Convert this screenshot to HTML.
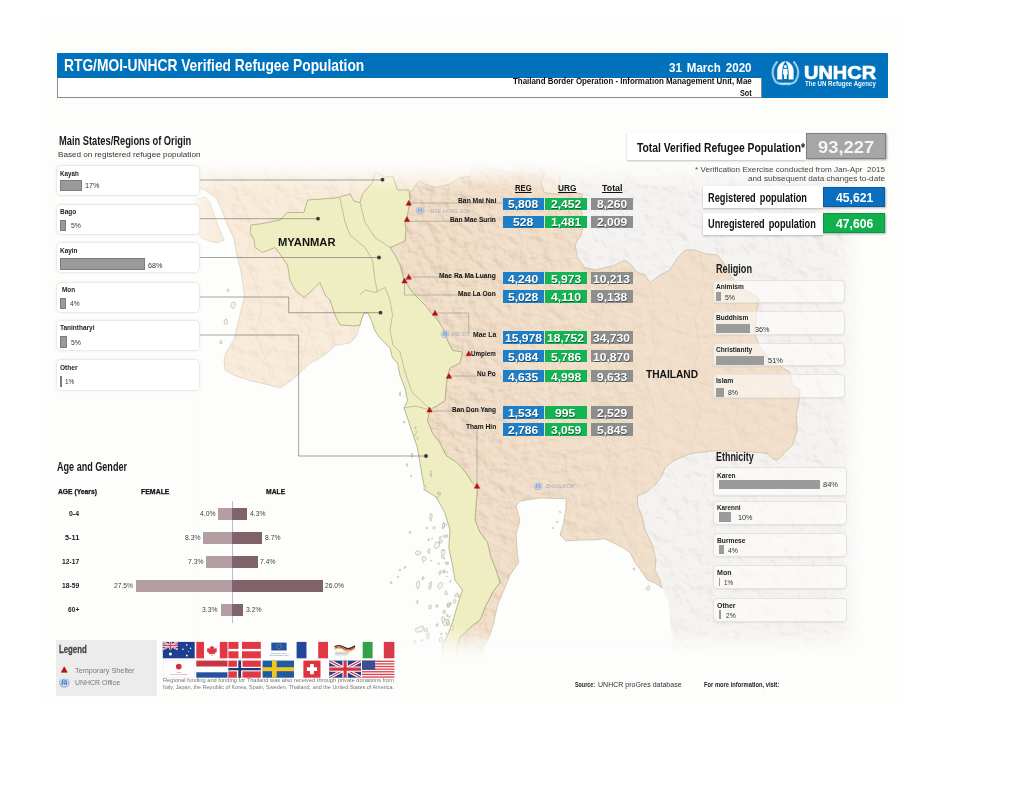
<!DOCTYPE html>
<html lang="en"><head><meta charset="utf-8"><title>RTG/MOI-UNHCR Verified Refugee Population</title>
<style>
html,body{margin:0;padding:0;background:#fff;}
body{width:1024px;height:791px;position:relative;overflow:hidden;font-family:'Liberation Sans', sans-serif;}
#page{position:absolute;left:40px;top:18px;width:864px;height:685px;background:#fdfdfc;}
svg{position:absolute;left:0;top:0;}
</style></head><body>
<div id="page"></div>
<svg width="1024" height="791" viewBox="0 0 1024 791">
<defs>
<filter id="fade" x="-10%" y="-10%" width="120%" height="120%"><feGaussianBlur stdDeviation="8.5 8.5"/></filter>
<mask id="mk" maskUnits="userSpaceOnUse" x="0" y="0" width="1024" height="791"><rect x="199" y="177" width="649" height="464" fill="#fff" filter="url(#fade)"/></mask>
<filter id="relief" x="0" y="0" width="100%" height="100%" color-interpolation-filters="sRGB">
 <feTurbulence type="fractalNoise" baseFrequency="0.075 0.085" numOctaves="4" seed="11" result="n"/>
 <feDiffuseLighting in="n" surfaceScale="1.9" diffuseConstant="1.34" lighting-color="#ffffff" result="l"><feDistantLight azimuth="315" elevation="48"/></feDiffuseLighting>
 <feColorMatrix in="l" type="matrix" values="1 0 0 0 0  0 1 0 0 0  0 0 1 0 0  0 0 0 1 0"/>
</filter>
<filter id="reliefW" x="0" y="0" width="100%" height="100%" color-interpolation-filters="sRGB">
 <feTurbulence type="fractalNoise" baseFrequency="0.075 0.085" numOctaves="4" seed="11" result="n"/>
 <feDiffuseLighting in="n" surfaceScale="1.9" diffuseConstant="1.34" lighting-color="#ffeeda" result="l"><feDistantLight azimuth="315" elevation="48"/></feDiffuseLighting>
 <feColorMatrix in="l" type="matrix" values="1 0 0 0 0  0 1 0 0 0  0 0 1 0 0  0 0 0 1 0"/>
</filter>
<linearGradient id="rg" x1="430" x2="660" y1="0" y2="0" gradientUnits="userSpaceOnUse"><stop offset="0" stop-color="#fff"/><stop offset="1" stop-color="#555"/></linearGradient>
<mask id="rm" maskUnits="userSpaceOnUse" x="0" y="0" width="1024" height="791"><rect width="1024" height="791" fill="url(#rg)"/></mask>
<clipPath id="cThai"><polygon points="410,192.5 419,181 425,184 435,187.5 450,184 460,177.5 470,176 472.5,165 482.5,167.5 500,170 510,172.5 520,165 540,167.5 545,172.5 541,182.5 544,192.5 555,194 575,192.5 582.5,194 580,205 584,222.5 581,235 575,245 577.5,257.5 585,267.5 595,270 615,265 625,260 630,263.75 637.5,272.5 645,275 650,282.5 660,275 670,270 677.5,257.5 685,250 695,250 705,253.75 717.5,255 725,265 730,275 740,287.5 752.5,293.75 758.75,300 756,315 755,335 760,347.5 770,360 782.5,367.5 790,372.5 792.5,385 800,390 798.75,402.5 796,415 797.5,430 792.5,445 785,452.5 777.5,460 772.5,458.75 767.5,453.75 760,452.5 735,451 710,451 690,453.75 675,460 665,467.5 662.5,475 655,485 646,492.5 637.5,496 637.5,505 642.5,517.5 645,530 652.5,545 656,560 655,570 660,580 662,588 655,583 647.5,580 642.5,572.5 635,562.5 630,552.5 622.5,547.5 612.5,542.5 605,538.75 592.5,540 580,540 566,541 560,535 563.75,522.5 566,507.5 566,498.75 540,498 520,501 516,506 520,520 516,535 517.5,555 518.75,562.5 510,575 505,587.5 497.5,605 493.75,622.5 490,635 482.5,650 480,670 455,670 456,650 460,637.5 470,627.5 480,620 485,607.5 492.5,592.5 500,582.5 496,570 491,557.5 487.5,542.5 480,532.5 475,520 476,505 477.5,487.5 472.5,483 466,473 457.5,463 446,455.5 440,443 432.5,433 427.5,420.5 429.5,409.75 437.5,405.5 445,400.5 446,388 447.5,375.5 450,368 460,363 462.5,352 452.5,350.5 450,345.5 446,337.5 444,330 437.5,320 425,305 412.5,292.5 404,280 400,265 395,255 390,247.5 394,246 405,241 406,230 405,222.5 407.5,215 410,200"/></clipPath>
<clipPath id="cEast"><polygon points="538,140 900,140 900,690 640,690 640,560 600,420 570,300 560,200"/></clipPath>
<clipPath id="cMya"><polygon points="190,140 560,140 560,200 400,200 400,312 368,313 364,313 362,318 360,325 357,335 355,338 350,343 335,345.5 330,350.5 320,358 310,363 297.5,375.5 287.5,383 280,388 265,384 250,380.5 235,375.5 225,370 224,360 226,353 230,346 234,340 237,327 240.6,312 244.4,297 243,284 240.6,269 237,256 234,238.5 228,226 223,213 218,201 214,196 205,190 190,186"/></clipPath>
</defs>
<g mask="url(#mk)">
<rect x="180" y="130" width="720" height="560" fill="#fdfdfb"/>
<polygon points="538,140 900,140 900,690 640,690 640,560 600,420 570,300 560,200" fill="#f5f3f1"/>
<g clip-path="url(#cEast)" style="mix-blend-mode:multiply" opacity=".13"><rect x="530" y="130" width="380" height="570" filter="url(#relief)"/></g>
<polygon points="516,506 520,501 540,498 566,498.75 566,507.5 563.75,522.5 560,535 566,541 580,540 592.5,540 605,538.75 612.5,542.5 622.5,547.5 630,552.5 635,562.5 642.5,572.5 647.5,580 655,583 662,588 668,600 672,640 676,700 470,700 480,670 482.5,650 490,635 493.75,622.5 497.5,605 505,587.5 510,575 518.75,562.5 517.5,555 516,535 520,520" fill="#fdfdfb"/>
<polygon points="190,140 560,140 560,200 400,200 400,312 368,313 364,313 362,318 360,325 357,335 355,338 350,343 335,345.5 330,350.5 320,358 310,363 297.5,375.5 287.5,383 280,388 265,384 250,380.5 235,375.5 225,370 224,360 226,353 230,346 234,340 237,327 240.6,312 244.4,297 243,284 240.6,269 237,256 234,238.5 228,226 223,213 218,201 214,196 205,190 190,186" fill="#f9ecdc" stroke="#d6d0c6" stroke-width=".7"/>
<g clip-path="url(#cMya)" style="mix-blend-mode:multiply" opacity=".10"><rect x="180" y="130" width="400" height="270" filter="url(#reliefW)"/></g>
<polyline points="225,165 232,185 240,200 251,225" fill="none" stroke="#e6dccb" stroke-width=".7"/>
<polyline points="262,162 268,180 285,195 307.5,200" fill="none" stroke="#e6dccb" stroke-width=".7"/>
<polyline points="312,160 318,178 336,198" fill="none" stroke="#e6dccb" stroke-width=".7"/>
<polyline points="350,160 352,178 350,194" fill="none" stroke="#e6dccb" stroke-width=".7"/>
<polyline points="251,240 245,262 256,285 262,310 255,330 262,350 270,372" fill="none" stroke="#e6dccb" stroke-width=".7"/>
<polyline points="304,297.5 300,315 310,330 304,350 300,372" fill="none" stroke="#e6dccb" stroke-width=".7"/>
<polyline points="330,300 325,320 335,340 333,347" fill="none" stroke="#e6dccb" stroke-width=".7"/>
<polyline points="410,192.5 400,180 398,165" fill="none" stroke="#e6dccb" stroke-width=".7"/>
<polygon points="410,192.5 419,181 425,184 435,187.5 450,184 460,177.5 470,176 472.5,165 482.5,167.5 500,170 510,172.5 520,165 540,167.5 545,172.5 541,182.5 544,192.5 555,194 575,192.5 582.5,194 580,205 584,222.5 581,235 575,245 577.5,257.5 585,267.5 595,270 615,265 625,260 630,263.75 637.5,272.5 645,275 650,282.5 660,275 670,270 677.5,257.5 685,250 695,250 705,253.75 717.5,255 725,265 730,275 740,287.5 752.5,293.75 758.75,300 756,315 755,335 760,347.5 770,360 782.5,367.5 790,372.5 792.5,385 800,390 798.75,402.5 796,415 797.5,430 792.5,445 785,452.5 777.5,460 772.5,458.75 767.5,453.75 760,452.5 735,451 710,451 690,453.75 675,460 665,467.5 662.5,475 655,485 646,492.5 637.5,496 637.5,505 642.5,517.5 645,530 652.5,545 656,560 655,570 660,580 662,588 655,583 647.5,580 642.5,572.5 635,562.5 630,552.5 622.5,547.5 612.5,542.5 605,538.75 592.5,540 580,540 566,541 560,535 563.75,522.5 566,507.5 566,498.75 540,498 520,501 516,506 520,520 516,535 517.5,555 518.75,562.5 510,575 505,587.5 497.5,605 493.75,622.5 490,635 482.5,650 480,670 455,670 456,650 460,637.5 470,627.5 480,620 485,607.5 492.5,592.5 500,582.5 496,570 491,557.5 487.5,542.5 480,532.5 475,520 476,505 477.5,487.5 472.5,483 466,473 457.5,463 446,455.5 440,443 432.5,433 427.5,420.5 429.5,409.75 437.5,405.5 445,400.5 446,388 447.5,375.5 450,368 460,363 462.5,352 452.5,350.5 450,345.5 446,337.5 444,330 437.5,320 425,305 412.5,292.5 404,280 400,265 395,255 390,247.5 394,246 405,241 406,230 405,222.5 407.5,215 410,200" fill="#f1e0cd" stroke="#cbb9a3" stroke-width=".7"/>
<g clip-path="url(#cThai)" mask="url(#rm)" style="mix-blend-mode:multiply" opacity=".26"><rect x="400" y="150" width="420" height="530" filter="url(#reliefW)"/></g>
<polyline points="440,250 455,262 470,258 485,270 500,262 520,270 545,262 577.5,257.5" fill="none" stroke="#e3d0ba" stroke-width=".6" opacity=".9"/>
<polyline points="470,176 478,200 470,222 480,240 470,258" fill="none" stroke="#e3d0ba" stroke-width=".6" opacity=".9"/>
<polyline points="520,165 525,190 515,215 522,240 520,270" fill="none" stroke="#e3d0ba" stroke-width=".6" opacity=".9"/>
<polyline points="445,332 462,325 480,332 500,322 520,330 545,322 570,332 600,322 630,330 650,322 670,330" fill="none" stroke="#e3d0ba" stroke-width=".6" opacity=".9"/>
<polyline points="485,270 490,300 482,322" fill="none" stroke="#e3d0ba" stroke-width=".6" opacity=".9"/>
<polyline points="545,262 550,290 545,322" fill="none" stroke="#e3d0ba" stroke-width=".6" opacity=".9"/>
<polyline points="600,270 605,300 600,322" fill="none" stroke="#e3d0ba" stroke-width=".6" opacity=".9"/>
<polyline points="650,282.5 655,305 650,322" fill="none" stroke="#e3d0ba" stroke-width=".6" opacity=".9"/>
<polyline points="700,254 705,290 695,320 700,350 690,380 700,410 690,453" fill="none" stroke="#e3d0ba" stroke-width=".6" opacity=".9"/>
<polyline points="650,322 655,350 645,380 655,410 648,440 662,475" fill="none" stroke="#e3d0ba" stroke-width=".6" opacity=".9"/>
<polyline points="462,400 480,392 500,400 520,392 545,400 570,392 600,400 630,392 648,400" fill="none" stroke="#e3d0ba" stroke-width=".6" opacity=".9"/>
<polyline points="500,400 505,430 498,455 512,470 516,506" fill="none" stroke="#e3d0ba" stroke-width=".6" opacity=".9"/>
<polyline points="545,400 550,430 542,450 566,455 566,498" fill="none" stroke="#e3d0ba" stroke-width=".6" opacity=".9"/>
<polyline points="566,455 590,447 610,455 640,447 662,455" fill="none" stroke="#e3d0ba" stroke-width=".6" opacity=".9"/>
<polyline points="600,400 598,430 610,455 605,480 612,510 605,538" fill="none" stroke="#e3d0ba" stroke-width=".6" opacity=".9"/>
<polyline points="477,505 495,500 516,506" fill="none" stroke="#e3d0ba" stroke-width=".6" opacity=".9"/>
<polyline points="487.5,542.5 500,548 517.5,555" fill="none" stroke="#e3d0ba" stroke-width=".6" opacity=".9"/>
<polyline points="493,592 500,598 505,588" fill="none" stroke="#e3d0ba" stroke-width=".6" opacity=".9"/>
<polyline points="730,275 725,300 735,330 725,360 740,390 735,420 745,451" fill="none" stroke="#e3d0ba" stroke-width=".6" opacity=".9"/>
<polyline points="670,330 700,338 730,330 757,335" fill="none" stroke="#e3d0ba" stroke-width=".6" opacity=".9"/>
<polyline points="690,380 720,388 760,380 792,385" fill="none" stroke="#e3d0ba" stroke-width=".6" opacity=".9"/>
<polygon points="307.5,200 336,198 350,194 354,201 360,202.5 362.5,194 372.5,182.5 375,172.5 380,174 385,177.5 392.5,176 397.5,190 409,190 410,200 407.5,215 405,222.5 406,230 405,241 394,246 390,247.5 395,255 400,265 404,280 412.5,292.5 425,305 437.5,320 444,330 446,337.5 450,345.5 452.5,350.5 462.5,352 460,363 450,368 447.5,375.5 446,388 445,400.5 437.5,405.5 429.5,409.75 427.5,420.5 432.5,433 440,443 446,455.5 457.5,463 466,473 472.5,483 477.5,487.5 476,505 475,520 480,532.5 487.5,542.5 491,557.5 496,570 500,582.5 492.5,592.5 485,607.5 480,620 470,627.5 460,637.5 456,650 455,670 442.5,670 442.5,645 447.5,635 452.5,622.5 457.5,605 462.5,590 455,580 452.5,565 448.75,547.5 450,530 445,513 436,497 425,490 422.5,478 420,463 417.5,448 412.5,433 407.5,418 404,408 407.5,400.5 405,388 400,375.5 397.5,363 392.5,358 390,348 380,338 375,331 372,322 368,313 364,313 362,318 360,325 355,326 340,325 335,315 330,300 325,295 320,282.5 312.5,290 304,297.5 295,290 290,280 287.5,265 282.5,257.5 275,247.5 262.5,252.5 255,247.5 254,240 250,232.5 251,225 260,224 280,220 287.5,212.5 304,212.5" fill="#efeec2" stroke="#aaa87c" stroke-width=".8" stroke-linejoin="round"/>
<polyline points="340,198 345,222 350,235 365,247.5 372.5,260 375,280 377.5,292.5" fill="none" stroke="#aeac84" stroke-width=".7"/>
<polyline points="360,202.5 365,222.5 375,237.5 390,247.5" fill="none" stroke="#aeac84" stroke-width=".7"/>
<polyline points="360,295 365,290 375,292.5 385,287.5 390,300 392.5,315 390,330 393,345 400,352 405,372 412,392 430,409" fill="none" stroke="#aeac84" stroke-width=".7"/>
<polyline points="404,408 415,406 429.5,409.75" fill="none" stroke="#aeac84" stroke-width=".7"/>
<polygon points="196,199 205,197 210,203 213,212 217,223 221,233 224,240 218,243 209,241 201,238 196,230" fill="#f9ecdc" stroke="#d6d0c6" stroke-width=".6"/>
<polygon points="426,488.3 425.2,489.5 424.2,490.4 424,489.1 423.9,487.7 424.7,486.3 425.5,486.3 426.3,486.6" fill="#f9f4ea" stroke="#a9a798" stroke-width=".55" stroke-linejoin="round"/>
<polygon points="431.9,517.6 431.3,520.8 430.5,521.1 429.9,520 429.8,517.3 430.6,513.5 431.6,513.7 432.2,514.8" fill="#f9f4ea" stroke="#a9a798" stroke-width=".55" stroke-linejoin="round"/>
<polygon points="411,532.5 410.8,533.5 410,533.7 409.4,533.3 408.8,532.5 409.5,531.9 410,531.1 410.6,531.8" fill="#f9f4ea" stroke="#a9a798" stroke-width=".55" stroke-linejoin="round"/>
<polygon points="427.6,528 427.4,528.5 427,528.9 426.4,528.8 426.4,528 426.4,527.3 427,527 427.5,527.4" fill="#f9f4ea" stroke="#a9a798" stroke-width=".55" stroke-linejoin="round"/>
<polygon points="429.3,540 428.9,540.7 428.5,541 428,540.8 427.7,540 428,539.1 428.5,538.8 429.1,539" fill="#f9f4ea" stroke="#a9a798" stroke-width=".55" stroke-linejoin="round"/>
<polygon points="420.6,554.1 419.1,554.9 417.1,555.2 415.3,553.6 415.7,552 416.7,550.8 418.8,551 420.9,552.3" fill="#f9f4ea" stroke="#a9a798" stroke-width=".55" stroke-linejoin="round"/>
<polygon points="426.3,559.5 424.9,561 423.3,562.5 422.5,560.3 422,558.6 422.8,556.4 424.5,556.7 425.8,557.3" fill="#f9f4ea" stroke="#a9a798" stroke-width=".55" stroke-linejoin="round"/>
<polygon points="430,551 430,552.8 429,553.6 428,552.7 427.4,551 428.2,549.5 429,548.5 430,549.3" fill="#f9f4ea" stroke="#a9a798" stroke-width=".55" stroke-linejoin="round"/>
<polygon points="439.5,545.8 437.9,547.8 435.8,548.9 434.1,547.2 434.7,544.3 436,541.9 437.8,542.5 439.6,543" fill="#f9f4ea" stroke="#a9a798" stroke-width=".55" stroke-linejoin="round"/>
<polygon points="445,552.4 444.2,554.8 442.3,555.3 441.5,553.5 441.2,551.6 442,549.6 443.4,549.9 444.7,550.3" fill="#f9f4ea" stroke="#a9a798" stroke-width=".55" stroke-linejoin="round"/>
<polygon points="405.8,567.5 405.5,568 405,568.2 404.2,568.3 404.2,567.5 404.4,566.9 405,566.6 405.8,566.7" fill="#f9f4ea" stroke="#a9a798" stroke-width=".55" stroke-linejoin="round"/>
<polygon points="400.7,570 400.6,570.6 400,570.9 399.3,570.7 399,570 399.3,569.3 400,569.2 400.6,569.4" fill="#f9f4ea" stroke="#a9a798" stroke-width=".55" stroke-linejoin="round"/>
<polygon points="392.1,582.5 392,583.3 391,583.7 390.3,583 390,582.5 390.2,581.9 391,581.7 391.9,581.8" fill="#f9f4ea" stroke="#a9a798" stroke-width=".55" stroke-linejoin="round"/>
<polygon points="398.8,577 398.5,577.5 398,577.6 397.5,577.5 397.3,577 397.4,576.4 398,576.1 398.6,576.4" fill="#f9f4ea" stroke="#a9a798" stroke-width=".55" stroke-linejoin="round"/>
<polygon points="419.5,585.2 418.9,588 417.6,589.1 417,587 416.2,584.8 417.1,581.8 418.5,580.5 419.5,582" fill="#f9f4ea" stroke="#a9a798" stroke-width=".55" stroke-linejoin="round"/>
<polygon points="424.1,578 423.8,579.3 423,579.5 422.1,579.4 422.1,578 422.4,577 423,576.4 423.7,576.9" fill="#f9f4ea" stroke="#a9a798" stroke-width=".55" stroke-linejoin="round"/>
<polygon points="431.2,586.1 430.4,588.9 429.6,589.8 428.9,588.9 429,585.9 429.5,582.5 430.4,582.1 431.6,581.7" fill="#f9f4ea" stroke="#a9a798" stroke-width=".55" stroke-linejoin="round"/>
<polygon points="442.4,586.5 440.9,588.1 439.4,588.8 438.1,587.8 437.9,585.6 439.1,583.9 440.8,582.3 442.6,583.6" fill="#f9f4ea" stroke="#a9a798" stroke-width=".55" stroke-linejoin="round"/>
<polygon points="447.5,593 447.1,594.5 446,594.6 445.2,594.2 444.6,593 445.1,591.7 446,590.5 446.9,591.8" fill="#f9f4ea" stroke="#a9a798" stroke-width=".55" stroke-linejoin="round"/>
<polygon points="417.7,602 417.8,603.3 417,603.5 416.5,602.9 416,602 416.5,601.2 417,600.5 417.8,600.7" fill="#f9f4ea" stroke="#a9a798" stroke-width=".55" stroke-linejoin="round"/>
<polygon points="431.4,607.3 430.6,608.9 429.6,609 428.9,608.3 429,606.8 429.4,605 430.5,604.7 431.3,605.4" fill="#f9f4ea" stroke="#a9a798" stroke-width=".55" stroke-linejoin="round"/>
<polygon points="437.9,606 437.6,606.8 437,607.5 436.2,607.2 435.9,606 436.2,604.9 437,604.4 437.8,604.9" fill="#f9f4ea" stroke="#a9a798" stroke-width=".55" stroke-linejoin="round"/>
<polygon points="445.2,612 445,613.4 444,613.8 443.2,613 442.9,612 443.1,610.8 444,610.3 445.1,610.5" fill="#f9f4ea" stroke="#a9a798" stroke-width=".55" stroke-linejoin="round"/>
<polygon points="449.4,623 447.2,624.7 444.8,625.8 442.7,624 442.6,621 444.8,619.4 446.8,619.4 448.2,620.6" fill="#f9f4ea" stroke="#a9a798" stroke-width=".55" stroke-linejoin="round"/>
<polygon points="453.3,628 452.9,629.1 452,630 450.7,629.6 450.2,628 450.9,626.7 452,625.9 453.2,626.4" fill="#f9f4ea" stroke="#a9a798" stroke-width=".55" stroke-linejoin="round"/>
<polygon points="423.5,627.9 424,629.7 420.9,631.9 416.9,632.1 414.9,630.6 416.3,628.3 419.4,627 423.1,625.9" fill="#f9f4ea" stroke="#a9a798" stroke-width=".55" stroke-linejoin="round"/>
<polygon points="429.3,636.3 428.7,638.5 427.3,639.5 426.7,637.7 426.7,635.7 427.3,633.3 428.6,632.9 429.1,634.5" fill="#f9f4ea" stroke="#a9a798" stroke-width=".55" stroke-linejoin="round"/>
<polygon points="416.2,642 415.9,642.7 415,643.4 413.8,642.9 413.8,642 413.7,641.1 415,640.6 416.2,641.1" fill="#f9f4ea" stroke="#a9a798" stroke-width=".55" stroke-linejoin="round"/>
<polygon points="442.4,640.1 441.9,642.2 440.8,642.3 440.1,641.4 439.1,639.8 440.1,637.7 441.3,637.1 442.6,637.7" fill="#f9f4ea" stroke="#a9a798" stroke-width=".55" stroke-linejoin="round"/>
<polygon points="412.7,455.1 412.4,457 411.7,457.7 411.4,456.3 411.3,454.9 411.7,453.5 412.2,453 412.7,453.4" fill="#f9f4ea" stroke="#a9a798" stroke-width=".55" stroke-linejoin="round"/>
<polygon points="407.6,465 407.5,466 407,466.2 406.4,466.3 406.4,465 406.5,463.9 407,463.4 407.6,463.7" fill="#f9f4ea" stroke="#a9a798" stroke-width=".55" stroke-linejoin="round"/>
<polygon points="404.5,422 404.5,423 404,423.1 403.6,422.8 403.4,422 403.7,421.4 404,420.9 404.3,421.3" fill="#f9f4ea" stroke="#a9a798" stroke-width=".55" stroke-linejoin="round"/>
<polygon points="400.5,394 400.4,395.8 399.8,395.7 399.4,395.4 399.3,393.9 399.7,392.4 400.2,392.1 400.6,392.6" fill="#f9f4ea" stroke="#a9a798" stroke-width=".55" stroke-linejoin="round"/>
<polygon points="411.6,476 411.5,476.8 411,476.8 410.6,476.7 410.5,476 410.6,475.4 411,474.9 411.4,475.3" fill="#f9f4ea" stroke="#a9a798" stroke-width=".55" stroke-linejoin="round"/>
<polygon points="235.1,305.4 234.2,307.7 232.3,308.6 231.2,306.8 230.8,304.6 232,302.6 233.6,302 235.1,303" fill="#f9f4ea" stroke="#a9a798" stroke-width=".55" stroke-linejoin="round"/>
<polygon points="227.7,322.2 227,323.9 225.8,324.4 224.3,324 224.1,321.8 224.8,319.8 226.3,319 227.2,320.6" fill="#f9f4ea" stroke="#a9a798" stroke-width=".55" stroke-linejoin="round"/>
<polygon points="229,290 228.8,291.3 228,291.8 227.5,290.9 227.2,290 227.3,289 228,288.8 228.6,289.1" fill="#f9f4ea" stroke="#a9a798" stroke-width=".55" stroke-linejoin="round"/>
<polygon points="222,342 222,343.2 221,343.7 219.9,343.3 219.9,342 220,340.8 221,340.4 221.8,341.1" fill="#f9f4ea" stroke="#a9a798" stroke-width=".55" stroke-linejoin="round"/>
<polygon points="649.5,588.5 648.5,590.3 647.4,589.9 646.3,589.6 646.8,587.6 647.6,586.2 648.8,585.3 649.6,586.5" fill="#f9f4ea" stroke="#a9a798" stroke-width=".55" stroke-linejoin="round"/>
<polygon points="634.8,569 634.6,569.8 634,570.1 633.4,569.7 633.2,569 633.4,568.3 634,567.7 634.5,568.4" fill="#f9f4ea" stroke="#a9a798" stroke-width=".55" stroke-linejoin="round"/>
<polygon points="557.7,522 557.5,522.5 557,522.6 556.6,522.5 556.3,522 556.5,521.5 557,521.4 557.6,521.3" fill="#f9f4ea" stroke="#a9a798" stroke-width=".55" stroke-linejoin="round"/>
<polygon points="553.7,528 553.5,528.5 553,528.5 552.6,528.4 552.6,528 552.5,527.5 553,527.5 553.3,527.7" fill="#f9f4ea" stroke="#a9a798" stroke-width=".55" stroke-linejoin="round"/>
<polygon points="560.5,512 560.5,512.6 560,512.8 559.6,512.4 559.5,512 559.5,511.4 560,511.3 560.4,511.5" fill="#f9f4ea" stroke="#a9a798" stroke-width=".55" stroke-linejoin="round"/>
<polygon points="443.7,528 442.9,529.2 442.4,528.6 442.1,527.9 442.7,526.6 443.5,526.6 444.3,526.6" fill="#f9f4ea" stroke="#a9a798" stroke-width=".55" stroke-linejoin="round"/>
<polygon points="439.3,563.6 439.2,564.3 438.8,565 438.3,564.3 438.2,563.2 438.6,562.5 439,563" fill="#f9f4ea" stroke="#a9a798" stroke-width=".55" stroke-linejoin="round"/>
<polygon points="443.8,550.2 443.6,550.8 443.1,550.5 442.8,550.2 442.8,549.6 443.4,549.4 443.8,549.7" fill="#f9f4ea" stroke="#a9a798" stroke-width=".55" stroke-linejoin="round"/>
<polygon points="459.8,596 459.4,597.1 458.9,598 458.2,597 458,595.4 458.5,594.4 459.2,594.8" fill="#f9f4ea" stroke="#a9a798" stroke-width=".55" stroke-linejoin="round"/>
<polygon points="449.9,604.9 449.7,606.7 448.4,606.9 447,606.2 447.3,604 448.3,603 449.5,603.2" fill="#f9f4ea" stroke="#a9a798" stroke-width=".55" stroke-linejoin="round"/>
<polygon points="442.4,541.9 441.1,542.9 439.8,542.9 439,541.7 439.3,540.2 440.7,540 441.9,540.3" fill="#f9f4ea" stroke="#a9a798" stroke-width=".55" stroke-linejoin="round"/>
<polygon points="450.8,581.4 450.4,582.2 449.8,582.3 449.8,581.4 450.1,580.8 450.6,580.1 450.9,580.7" fill="#f9f4ea" stroke="#a9a798" stroke-width=".55" stroke-linejoin="round"/>
<polygon points="447.4,563.9 447,564.8 446.4,564.6 446,564.1 446.3,563 446.9,562.7 447.4,562.9" fill="#f9f4ea" stroke="#a9a798" stroke-width=".55" stroke-linejoin="round"/>
<polygon points="448,572.1 447.9,572.7 447.4,572.9 446.9,572.7 447,572.1 447.1,571.7 447.6,571.7" fill="#f9f4ea" stroke="#a9a798" stroke-width=".55" stroke-linejoin="round"/>
<polygon points="446.2,562.7 445.7,563.1 445.3,563.1 445,562.6 445.4,562.1 445.8,561.8 446.3,562" fill="#f9f4ea" stroke="#a9a798" stroke-width=".55" stroke-linejoin="round"/>
<polygon points="427.4,629.6 427.4,631.6 426,632 424.6,631.3 424.5,629.2 425.4,628.2 426.7,627.9" fill="#f9f4ea" stroke="#a9a798" stroke-width=".55" stroke-linejoin="round"/>
<polygon points="445.2,524.4 444.2,524.9 443.3,525.2 442.6,524.3 442.8,523.2 443.9,522.9 444.6,523.5" fill="#f9f4ea" stroke="#a9a798" stroke-width=".55" stroke-linejoin="round"/>
<polygon points="431.6,560.6 431.5,561.1 431,561.3 430.7,560.8 430.7,560.3 431,560 431.5,560.1" fill="#f9f4ea" stroke="#a9a798" stroke-width=".55" stroke-linejoin="round"/>
<polygon points="442,634 441.8,634.8 441.3,635.2 440.7,634.7 440.6,633.6 441.1,633.2 441.7,633" fill="#f9f4ea" stroke="#a9a798" stroke-width=".55" stroke-linejoin="round"/>
<polygon points="448.1,624.9 447.8,625.4 447.3,625.4 447.3,624.8 447.3,624.2 447.9,624 448.2,624.3" fill="#f9f4ea" stroke="#a9a798" stroke-width=".55" stroke-linejoin="round"/>
<polygon points="432.6,538.7 432.2,539.2 431.7,539.2 431.4,538.6 431.9,538.1 432.4,537.7 432.7,538.1" fill="#f9f4ea" stroke="#a9a798" stroke-width=".55" stroke-linejoin="round"/>
<polygon points="449.1,605.9 448.4,607.4 447.5,607.3 447.2,606.1 447.7,604.8 448.6,603.5 449.3,604.4" fill="#f9f4ea" stroke="#a9a798" stroke-width=".55" stroke-linejoin="round"/>
<polygon points="450.1,624.4 449.2,625 448.1,625 448,624 448,623 449,622.7 449.9,623.2" fill="#f9f4ea" stroke="#a9a798" stroke-width=".55" stroke-linejoin="round"/>
<polygon points="444.7,558.2 444.8,558.9 444.4,559.1 444,558.8 443.7,558.1 444,557.6 444.4,557.7" fill="#f9f4ea" stroke="#a9a798" stroke-width=".55" stroke-linejoin="round"/>
<polygon points="445.5,536.3 445,537.4 443.9,537.7 443.1,536.7 443.3,535.5 444.2,534.8 445.2,535.2" fill="#f9f4ea" stroke="#a9a798" stroke-width=".55" stroke-linejoin="round"/>
<polygon points="447.1,622.7 446.9,623.4 446.4,623.5 446,623 446.1,622.1 446.6,621.9 447,622.1" fill="#f9f4ea" stroke="#a9a798" stroke-width=".55" stroke-linejoin="round"/>
<polygon points="437.9,625.1 437.6,626 436.5,626.5 435.8,625.4 436.1,624.3 437,623.9 438.1,623.8" fill="#f9f4ea" stroke="#a9a798" stroke-width=".55" stroke-linejoin="round"/>
<polygon points="455.8,601.3 455.7,602.5 455,603.4 453.9,602.7 453.5,600.6 454.3,599.2 455.4,599.8" fill="#f9f4ea" stroke="#a9a798" stroke-width=".55" stroke-linejoin="round"/>
<polygon points="441.5,537.7 440.8,538.8 439.9,539.1 439,538.4 439.2,537.1 439.9,536.4 440.8,536.5" fill="#f9f4ea" stroke="#a9a798" stroke-width=".55" stroke-linejoin="round"/>
<polygon points="439.5,542.4 439.2,542.9 438.8,542.8 438.5,542.5 438.6,542 439,541.7 439.4,541.9" fill="#f9f4ea" stroke="#a9a798" stroke-width=".55" stroke-linejoin="round"/>
<polygon points="422.6,641.1 422,641.7 421.4,641.4 421.1,640.8 421.4,639.9 422.3,639.4 422.8,640.3" fill="#f9f4ea" stroke="#a9a798" stroke-width=".55" stroke-linejoin="round"/>
<polygon points="449.4,620.4 448.7,621.3 447.9,621.3 447.2,620.6 447.5,619.5 448.3,619.2 449,619.4" fill="#f9f4ea" stroke="#a9a798" stroke-width=".55" stroke-linejoin="round"/>
<polygon points="444.7,618.8 444.6,621 443.4,621.8 442.1,620.5 441.5,618.1 442.4,616.3 443.7,617.2" fill="#f9f4ea" stroke="#a9a798" stroke-width=".55" stroke-linejoin="round"/>
<polygon points="444.6,525.9 444.8,526.7 444.4,527.1 444,526.5 443.8,525.8 444,525.3 444.4,525.4" fill="#f9f4ea" stroke="#a9a798" stroke-width=".55" stroke-linejoin="round"/>
<polygon points="440.7,572.8 440.4,574.3 439.5,574.8 438.9,573.6 439,572 439.6,571 440.7,570.7" fill="#f9f4ea" stroke="#a9a798" stroke-width=".55" stroke-linejoin="round"/>
<polygon points="448.7,563 448.4,563.8 447.6,563.8 446.8,563.5 446.9,562.6 447.5,562.2 448.4,562.1" fill="#f9f4ea" stroke="#a9a798" stroke-width=".55" stroke-linejoin="round"/>
<polygon points="448.1,615.4 448,616.6 447.3,616.7 446.7,616.2 446.5,615 447.1,614.4 447.7,614.3" fill="#f9f4ea" stroke="#a9a798" stroke-width=".55" stroke-linejoin="round"/>
<polygon points="446.8,633.3 446.7,633.9 446.2,634.2 445.8,633.7 445.5,633 446.1,632.6 446.6,632.7" fill="#f9f4ea" stroke="#a9a798" stroke-width=".55" stroke-linejoin="round"/>
<polygon points="447.8,536.3 447,537.6 446.1,537.3 446,536.3 446.2,535.1 447,534.7 447.7,535" fill="#f9f4ea" stroke="#a9a798" stroke-width=".55" stroke-linejoin="round"/>
<polygon points="450.1,616.9 449.5,617.7 449,617.6 448.9,616.9 449.4,616.2 449.9,615.7 450.2,616.1" fill="#f9f4ea" stroke="#a9a798" stroke-width=".55" stroke-linejoin="round"/>
<polygon points="440.1,640.7 440,641.4 439.4,641.7 438.8,641.3 438.8,640.5 439.3,640.2 439.8,640.2" fill="#f9f4ea" stroke="#a9a798" stroke-width=".55" stroke-linejoin="round"/>
<polygon points="443.3,556.6 442.9,558.1 442.2,558.6 441.5,557.6 441.4,556.2 441.8,555.2 442.5,555.5" fill="#f9f4ea" stroke="#a9a798" stroke-width=".55" stroke-linejoin="round"/>
<polygon points="446.9,524.6 446.6,524.9 446.2,525 446,524.6 446.1,524.2 446.4,524 446.9,524.2" fill="#f9f4ea" stroke="#a9a798" stroke-width=".55" stroke-linejoin="round"/>
<polygon points="445.3,571.1 444.9,572.5 443.6,572.8 442.4,572.1 442.8,570.6 443.5,569.7 444.6,570" fill="#f9f4ea" stroke="#a9a798" stroke-width=".55" stroke-linejoin="round"/>
<polygon points="457.8,595.3 456.5,596.4 455.3,597.2 454.9,595.5 455.9,593.9 456.9,593 457.8,593.4" fill="#f9f4ea" stroke="#a9a798" stroke-width=".55" stroke-linejoin="round"/>
<polygon points="444.7,525.3 443.9,526.4 442.8,527.1 442.4,525.6 443,524.2 443.8,522.7 444.8,523.4" fill="#f9f4ea" stroke="#a9a798" stroke-width=".55" stroke-linejoin="round"/>
<polygon points="447.1,576.5 447.2,577 446.8,577.1 446.5,576.9 446.2,576.4 446.5,576 446.9,576.2" fill="#f9f4ea" stroke="#a9a798" stroke-width=".55" stroke-linejoin="round"/>
<polygon points="449.1,604.4 448.5,605.3 447.6,606.1 447.4,604.7 447.4,603.5 448.2,602.8 449,603.1" fill="#f9f4ea" stroke="#a9a798" stroke-width=".55" stroke-linejoin="round"/>
<polygon points="451.7,603.7 451.3,604.7 450.5,604.5 450.2,603.7 450.4,602.7 451.2,602.3 451.7,603" fill="#f9f4ea" stroke="#a9a798" stroke-width=".55" stroke-linejoin="round"/>
<polygon points="444.8,572.1 444.4,573 443.9,573.2 443.6,572.6 443.5,571.7 443.8,571.2 444.4,571.1" fill="#f9f4ea" stroke="#a9a798" stroke-width=".55" stroke-linejoin="round"/>
<polygon points="435.3,527.9 434.6,528.7 433.7,529.2 432.9,528.4 433.2,527.4 433.8,526.7 434.8,526.8" fill="#f9f4ea" stroke="#a9a798" stroke-width=".55" stroke-linejoin="round"/>
<polygon points="416,427.8 415.5,428.9 415,428.9 415.1,427.6 415.4,426.7 415.8,426.7" fill="#f9f4ea" stroke="#a9a798" stroke-width=".55" stroke-linejoin="round"/>
<polygon points="438.7,493.1 438.4,494.4 437.8,494.6 437.8,493 438.3,491.7 438.7,492" fill="#f9f4ea" stroke="#a9a798" stroke-width=".55" stroke-linejoin="round"/>
<polygon points="440.5,494.2 440,495.7 439.5,495.5 439.5,494 439.9,492.8 440.4,492.6" fill="#f9f4ea" stroke="#a9a798" stroke-width=".55" stroke-linejoin="round"/>
<polygon points="431.1,472.5 430.8,473.7 430.4,473.5 430.3,472.4 430.7,470.9 431.2,471" fill="#f9f4ea" stroke="#a9a798" stroke-width=".55" stroke-linejoin="round"/>
<polygon points="417,432 416.7,432.7 416.2,432.6 416.1,431.9 416.4,431 416.9,431.3" fill="#f9f4ea" stroke="#a9a798" stroke-width=".55" stroke-linejoin="round"/>
<polygon points="431.2,475.3 430.8,476.3 430.4,476.1 430.2,475.2 430.6,474.3 431,474.4" fill="#f9f4ea" stroke="#a9a798" stroke-width=".55" stroke-linejoin="round"/>
<polygon points="415.3,435 414.9,435.7 414.6,435.7 414.3,434.8 414.8,434 415.3,433.9" fill="#f9f4ea" stroke="#a9a798" stroke-width=".55" stroke-linejoin="round"/>
<polygon points="417.9,438.5 417.4,439.5 417,439.4 416.9,438.4 417.2,437.3 417.8,437.3" fill="#f9f4ea" stroke="#a9a798" stroke-width=".55" stroke-linejoin="round"/>
<polygon points="431.9,475.4 431.5,476.5 431.1,476 430.9,475.2 431.3,474.2 431.8,474.4" fill="#f9f4ea" stroke="#a9a798" stroke-width=".55" stroke-linejoin="round"/>
<polygon points="438,497.2 437.5,498 437.1,497.9 436.9,497.1 437.3,496.4 437.8,496.4" fill="#f9f4ea" stroke="#a9a798" stroke-width=".55" stroke-linejoin="round"/>
</g>
<polyline points="200,180 382.5,180" fill="none" stroke="#6a6a6a" stroke-width=".6"/>
<polyline points="200,218.7 318,218.7" fill="none" stroke="#6a6a6a" stroke-width=".6"/>
<polyline points="200,257.5 379,257.5" fill="none" stroke="#6a6a6a" stroke-width=".6"/>
<polyline points="200,297 288.75,297 288.75,312.7 380.5,312.7" fill="none" stroke="#6a6a6a" stroke-width=".6"/>
<polyline points="200,335 298.6,335 298.6,456 426,456" fill="none" stroke="#6a6a6a" stroke-width=".6"/>
<polyline points="409,203 502,203" fill="none" stroke="#8c8c8c" stroke-width=".55"/>
<polyline points="407,221.3 495.5,221.3" fill="none" stroke="#8c8c8c" stroke-width=".55"/>
<polyline points="409,277 495.5,277" fill="none" stroke="#8c8c8c" stroke-width=".55"/>
<polyline points="404.5,281 404.5,295 495.5,295" fill="none" stroke="#8c8c8c" stroke-width=".55"/>
<polyline points="435,313 468.75,313 468.75,334" fill="none" stroke="#8c8c8c" stroke-width=".55"/>
<polyline points="449,376 495.5,376" fill="none" stroke="#8c8c8c" stroke-width=".55"/>
<polyline points="429.5,411 495.5,411" fill="none" stroke="#8c8c8c" stroke-width=".55"/>
<polyline points="477,427.5 477,486" fill="none" stroke="#8c8c8c" stroke-width=".55"/>
<circle cx="382.5" cy="179.7" r="1.9" fill="#3c3c3c"/>
<circle cx="318" cy="218.7" r="1.9" fill="#3c3c3c"/>
<circle cx="379" cy="257.5" r="1.9" fill="#3c3c3c"/>
<circle cx="380.5" cy="312.7" r="1.9" fill="#3c3c3c"/>
<circle cx="426" cy="456" r="1.9" fill="#3c3c3c"/>
<use href="#emb" transform="translate(420,210.5) scale(.3)" color="#86aee6"/>
<use href="#emb" transform="translate(445,334) scale(.3)" color="#86aee6"/>
<use href="#emb" transform="translate(538,486) scale(.3)" color="#86aee6"/>
<g fill="#c40d12" stroke="#8e0a0d" stroke-width=".5" stroke-linejoin="round"><path d="M408.75,200.4 L411.35,205.21 L406.15,205.21 Z"/><path d="M407,216.65 L409.6,221.46 L404.4,221.46 Z"/><path d="M408.75,274.4 L411.35,279.21 L406.15,279.21 Z"/><path d="M404.5,278.15 L407.1,282.96 L401.9,282.96 Z"/><path d="M435,310.4 L437.6,315.21 L432.4,315.21 Z"/><path d="M468.75,350.9 L471.35,355.71 L466.15,355.71 Z"/><path d="M449,373.4 L451.6,378.21 L446.4,378.21 Z"/><path d="M429.5,407.15 L432.1,411.96 L426.9,411.96 Z"/><path d="M477,483.4 L479.6,488.21 L474.4,488.21 Z"/></g>
</svg>
<div style="position:absolute;left:56.5px;top:53px;width:705.50px;height:24.50px;background:#0072bc;"></div><div style="position:absolute;left:56.5px;top:77.5px;width:705.50px;height:20.50px;background:#fff;border:1px solid #8a8a8a;border-top:none;box-sizing:border-box;"></div><div style="position:absolute;left:761.75px;top:53px;width:125.75px;height:45.00px;background:#0072bc;"></div><div style="position:absolute;left:56px;top:165px;width:144.00px;height:30.50px;background:rgba(255,255,255,.82);border:1px solid #eceae6;border-radius:5px;box-sizing:border-box;box-shadow:0 0 3px rgba(0,0,0,.07);"></div><div style="position:absolute;left:60px;top:180px;width:22.00px;height:11.00px;background:#9a9a9a;border:1px solid #7c7c7c;box-sizing:border-box;"></div><div style="position:absolute;left:56px;top:203.75px;width:144.00px;height:30.75px;background:rgba(255,255,255,.82);border:1px solid #eceae6;border-radius:5px;box-sizing:border-box;box-shadow:0 0 3px rgba(0,0,0,.07);"></div><div style="position:absolute;left:60px;top:219.5px;width:6.25px;height:11.00px;background:#9a9a9a;border:1px solid #7c7c7c;box-sizing:border-box;"></div><div style="position:absolute;left:56px;top:242px;width:144.00px;height:31.00px;background:rgba(255,255,255,.82);border:1px solid #eceae6;border-radius:5px;box-sizing:border-box;box-shadow:0 0 3px rgba(0,0,0,.07);"></div><div style="position:absolute;left:60px;top:258.25px;width:84.50px;height:11.75px;background:#9a9a9a;border:1px solid #7c7c7c;box-sizing:border-box;"></div><div style="position:absolute;left:56px;top:281.75px;width:144.00px;height:31.25px;background:rgba(255,255,255,.82);border:1px solid #eceae6;border-radius:5px;box-sizing:border-box;box-shadow:0 0 3px rgba(0,0,0,.07);"></div><div style="position:absolute;left:60px;top:297.5px;width:5.50px;height:11.50px;background:#9a9a9a;border:1px solid #7c7c7c;box-sizing:border-box;"></div><div style="position:absolute;left:56px;top:320px;width:144.00px;height:30.75px;background:rgba(255,255,255,.82);border:1px solid #eceae6;border-radius:5px;box-sizing:border-box;box-shadow:0 0 3px rgba(0,0,0,.07);"></div><div style="position:absolute;left:60px;top:336px;width:6.50px;height:12.00px;background:#9a9a9a;border:1px solid #7c7c7c;box-sizing:border-box;"></div><div style="position:absolute;left:56px;top:359px;width:144.00px;height:31.50px;background:rgba(255,255,255,.82);border:1px solid #eceae6;border-radius:5px;box-sizing:border-box;box-shadow:0 0 3px rgba(0,0,0,.07);"></div><div style="position:absolute;left:60px;top:376px;width:1.60px;height:11.00px;background:#9a9a9a;border:1px solid #7c7c7c;box-sizing:border-box;"></div><div style="position:absolute;left:231.6px;top:501px;width:0.80px;height:121.50px;background:#b9c0c8;"></div><div style="position:absolute;left:218px;top:508.25px;width:14.00px;height:11.75px;background:#b39fa3;"></div><div style="position:absolute;left:232px;top:508.25px;width:15.00px;height:11.75px;background:#7f626a;"></div><div style="position:absolute;left:203px;top:532px;width:29.00px;height:12.00px;background:#b39fa3;"></div><div style="position:absolute;left:232px;top:532px;width:30.00px;height:12.00px;background:#7f626a;"></div><div style="position:absolute;left:206.25px;top:556.25px;width:25.75px;height:11.75px;background:#b39fa3;"></div><div style="position:absolute;left:232px;top:556.25px;width:25.50px;height:11.75px;background:#7f626a;"></div><div style="position:absolute;left:136.25px;top:580px;width:95.75px;height:12.00px;background:#b39fa3;"></div><div style="position:absolute;left:232px;top:580px;width:90.50px;height:12.00px;background:#7f626a;"></div><div style="position:absolute;left:220.5px;top:604.25px;width:11.50px;height:11.75px;background:#b39fa3;"></div><div style="position:absolute;left:232px;top:604.25px;width:11.00px;height:11.75px;background:#7f626a;"></div><div style="position:absolute;left:56.25px;top:640px;width:100.75px;height:55.50px;background:#ececec;"></div><div style="position:absolute;left:627px;top:132.5px;width:179.00px;height:27.50px;background:#fff;box-shadow:0 1px 2px rgba(0,0,0,.25);"></div><div style="position:absolute;left:805.75px;top:133px;width:79.75px;height:25.75px;background:#a6a6a6;border:1px solid #7f7f7f;box-sizing:border-box;box-shadow:1px 1px 2px rgba(0,0,0,.35);"></div><div style="position:absolute;left:702.5px;top:186px;width:120.50px;height:22.00px;background:#fff;box-shadow:0 1px 2px rgba(0,0,0,.25);"></div><div style="position:absolute;left:823px;top:187px;width:62.00px;height:20.00px;background:#0a6fc0;border:1px solid #0a5aa0;box-sizing:border-box;box-shadow:1px 1px 2px rgba(0,0,0,.3);"></div><div style="position:absolute;left:702.5px;top:212.5px;width:120.50px;height:22.00px;background:#fff;box-shadow:0 1px 2px rgba(0,0,0,.25);"></div><div style="position:absolute;left:823px;top:213px;width:62.00px;height:20.25px;background:#10b04f;border:1px solid #0d9441;box-sizing:border-box;box-shadow:1px 1px 2px rgba(0,0,0,.3);"></div><div style="position:absolute;left:713px;top:279.5px;width:131.50px;height:23.50px;background:rgba(255,255,255,.52);border:1px solid #e6e2dc;border-radius:4px;box-sizing:border-box;box-shadow:0 1px 2px rgba(0,0,0,.06);"></div><div style="position:absolute;left:716px;top:291.75px;width:5.00px;height:9.50px;background:#9b9b9b;"></div><div style="position:absolute;left:713px;top:310.75px;width:131.50px;height:24.25px;background:rgba(255,255,255,.52);border:1px solid #e6e2dc;border-radius:4px;box-sizing:border-box;box-shadow:0 1px 2px rgba(0,0,0,.06);"></div><div style="position:absolute;left:716px;top:324px;width:34.00px;height:9.00px;background:#9b9b9b;"></div><div style="position:absolute;left:713px;top:342.5px;width:131.50px;height:23.50px;background:rgba(255,255,255,.52);border:1px solid #e6e2dc;border-radius:4px;box-sizing:border-box;box-shadow:0 1px 2px rgba(0,0,0,.06);"></div><div style="position:absolute;left:716px;top:355.5px;width:47.75px;height:9.00px;background:#9b9b9b;"></div><div style="position:absolute;left:713px;top:374px;width:131.50px;height:24.00px;background:rgba(255,255,255,.52);border:1px solid #e6e2dc;border-radius:4px;box-sizing:border-box;box-shadow:0 1px 2px rgba(0,0,0,.06);"></div><div style="position:absolute;left:716px;top:387.5px;width:7.75px;height:9.25px;background:#9b9b9b;"></div><div style="position:absolute;left:713px;top:466.6px;width:133.70px;height:29.40px;background:rgba(255,255,255,.52);border:1px solid #e6e2dc;border-radius:4px;box-sizing:border-box;box-shadow:0 1px 2px rgba(0,0,0,.06);"></div><div style="position:absolute;left:718.75px;top:479.5px;width:100.85px;height:9.25px;background:#9b9b9b;"></div><div style="position:absolute;left:713px;top:500.7px;width:133.70px;height:24.60px;background:rgba(255,255,255,.52);border:1px solid #e6e2dc;border-radius:4px;box-sizing:border-box;box-shadow:0 1px 2px rgba(0,0,0,.06);"></div><div style="position:absolute;left:718.75px;top:512px;width:12.50px;height:9.75px;background:#9b9b9b;"></div><div style="position:absolute;left:713px;top:533.3px;width:133.70px;height:23.70px;background:rgba(255,255,255,.52);border:1px solid #e6e2dc;border-radius:4px;box-sizing:border-box;box-shadow:0 1px 2px rgba(0,0,0,.06);"></div><div style="position:absolute;left:718.75px;top:545px;width:5.00px;height:8.75px;background:#9b9b9b;"></div><div style="position:absolute;left:713px;top:564.8px;width:133.70px;height:24.60px;background:rgba(255,255,255,.52);border:1px solid #e6e2dc;border-radius:4px;box-sizing:border-box;box-shadow:0 1px 2px rgba(0,0,0,.06);"></div><div style="position:absolute;left:718.75px;top:577.5px;width:1.25px;height:8.75px;background:#9b9b9b;"></div><div style="position:absolute;left:713px;top:597.5px;width:133.70px;height:24.10px;background:rgba(255,255,255,.52);border:1px solid #e6e2dc;border-radius:4px;box-sizing:border-box;box-shadow:0 1px 2px rgba(0,0,0,.06);"></div><div style="position:absolute;left:718.5px;top:609.5px;width:2.50px;height:9.90px;background:#9b9b9b;"></div><div style="position:absolute;left:502.5px;top:197.5px;width:41.50px;height:12.50px;background:#1f7fc6;"></div><div style="position:absolute;left:544.5px;top:197.5px;width:42.25px;height:12.50px;background:#12b453;"></div><div style="position:absolute;left:590.75px;top:197.5px;width:42.25px;height:12.50px;background:#8e8e8e;"></div><div style="position:absolute;left:502.5px;top:215.75px;width:41.50px;height:12.00px;background:#1f7fc6;"></div><div style="position:absolute;left:544.5px;top:215.75px;width:42.25px;height:12.00px;background:#12b453;"></div><div style="position:absolute;left:590.75px;top:215.75px;width:42.25px;height:12.00px;background:#8e8e8e;"></div><div style="position:absolute;left:502.5px;top:272px;width:41.50px;height:12.25px;background:#1f7fc6;"></div><div style="position:absolute;left:544.5px;top:272px;width:42.25px;height:12.25px;background:#12b453;"></div><div style="position:absolute;left:590.75px;top:272px;width:42.25px;height:12.25px;background:#8e8e8e;"></div><div style="position:absolute;left:502.5px;top:290px;width:41.50px;height:12.50px;background:#1f7fc6;"></div><div style="position:absolute;left:544.5px;top:290px;width:42.25px;height:12.50px;background:#12b453;"></div><div style="position:absolute;left:590.75px;top:290px;width:42.25px;height:12.50px;background:#8e8e8e;"></div><div style="position:absolute;left:502.5px;top:331px;width:41.50px;height:12.50px;background:#1f7fc6;"></div><div style="position:absolute;left:544.5px;top:331px;width:42.25px;height:12.50px;background:#12b453;"></div><div style="position:absolute;left:590.75px;top:331px;width:42.25px;height:12.50px;background:#8e8e8e;"></div><div style="position:absolute;left:502.5px;top:349.75px;width:41.50px;height:12.50px;background:#1f7fc6;"></div><div style="position:absolute;left:544.5px;top:349.75px;width:42.25px;height:12.50px;background:#12b453;"></div><div style="position:absolute;left:590.75px;top:349.75px;width:42.25px;height:12.50px;background:#8e8e8e;"></div><div style="position:absolute;left:502.5px;top:369.75px;width:41.50px;height:12.50px;background:#1f7fc6;"></div><div style="position:absolute;left:544.5px;top:369.75px;width:42.25px;height:12.50px;background:#12b453;"></div><div style="position:absolute;left:590.75px;top:369.75px;width:42.25px;height:12.50px;background:#8e8e8e;"></div><div style="position:absolute;left:502.5px;top:406px;width:41.50px;height:12.50px;background:#1f7fc6;"></div><div style="position:absolute;left:544.5px;top:406px;width:42.25px;height:12.50px;background:#12b453;"></div><div style="position:absolute;left:590.75px;top:406px;width:42.25px;height:12.50px;background:#8e8e8e;"></div><div style="position:absolute;left:502.5px;top:423px;width:41.50px;height:12.50px;background:#1f7fc6;"></div><div style="position:absolute;left:544.5px;top:423px;width:42.25px;height:12.50px;background:#12b453;"></div><div style="position:absolute;left:590.75px;top:423px;width:42.25px;height:12.50px;background:#8e8e8e;"></div>
<svg width="1024" height="791" viewBox="0 0 1024 791">
<rect x="162.8" y="641.9" width="31.9" height="16.4" fill="#1d3f8f" />
<g transform="translate(162.8,641.9)"><path d="M0,0 L15,7.6 M15,0 L0,7.6" stroke="#ffffff" stroke-width="1.8"/><path d="M0,0 L15,7.6 M15,0 L0,7.6" stroke="#e23744" stroke-width=".7"/><path d="M7.5,0 V7.6 M0,3.8 H15" stroke="#ffffff" stroke-width="2.4"/><path d="M7.5,0 V7.6 M0,3.8 H15" stroke="#e23744" stroke-width="1.3"/><g fill="#ffffff"><circle cx="7.6" cy="12" r="1.5"/><circle cx="24" cy="3" r=".8"/><circle cx="24" cy="13.6" r=".9"/><circle cx="20.2" cy="7.4" r=".8"/><circle cx="27.8" cy="6.4" r=".8"/><circle cx="25.6" cy="9.6" r=".5"/></g></g>
<rect x="196.3" y="641.9" width="31.2" height="16.4" fill="#ffffff" />
<rect x="196.3" y="641.9" width="7.7" height="16.4" fill="#e23744" />
<rect x="219.8" y="641.9" width="7.7" height="16.4" fill="#e23744" />
<path transform="translate(211.9,650.1) scale(.62)" fill="#e23744" d="M0,-8 L1.6,-5 L3.6,-6 L3,-1.6 L5.4,-3.6 L6,-2 L8.4,-2.4 L7.4,1 L8.6,1.8 L4.4,5 L5,6.6 L0.5,6 L0.5,9 L-0.5,9 L-0.5,6 L-5,6.6 L-4.4,5 L-8.6,1.8 L-7.4,1 L-8.4,-2.4 L-6,-2 L-5.4,-3.6 L-3,-1.6 L-3.6,-6 L-1.6,-5 Z"/>
<rect x="228.4" y="641.9" width="32.4" height="16.4" fill="#e23744" />
<rect x="238.5" y="641.9" width="3.5" height="16.4" fill="#ffffff" />
<rect x="228.4" y="648.9" width="32.4" height="2.4" fill="#ffffff" />
<rect x="271.3" y="642.6" width="15.3" height="7.9" fill="#2353a8" />
<circle cx="278.95" cy="646.5" r="2.3" fill="none" stroke="#f2d13a" stroke-width=".6" stroke-dasharray=".6 .6"/>
<text x="278.95" y="653.6" font-family="'Liberation Sans',sans-serif" font-size="2.2" fill="#5a6f9a" text-anchor="middle">European Union</text>
<text x="278.95" y="656.4" font-family="'Liberation Sans',sans-serif" font-size="2.2" fill="#5a6f9a" text-anchor="middle">Civil Protection and</text>
<rect x="296.6" y="641.9" width="31.4" height="16.4" fill="#ffffff" />
<rect x="296.6" y="641.9" width="9.9" height="16.4" fill="#23459b" />
<rect x="318.2" y="641.9" width="9.8" height="16.4" fill="#e23744" />
<g transform="translate(334.6,644.9)" fill="none" stroke-linecap="round"><path d="M0.5,1.6 Q5,-0.6 9.5,2.4 T20,1.2" stroke="#2b2b2b" stroke-width="1.3"/><path d="M0.5,3.0 Q5,0.8 9.5,3.8 T20,2.6" stroke="#d6343c" stroke-width="1.1"/><path d="M0.5,4.3 Q5,2.1 9.5,5.1 T20,3.9" stroke="#e9b93a" stroke-width="1.1"/><path d="M1,7.2 H14 M1,8.6 H14 M1,10 H12" stroke="#9aa3ad" stroke-width=".55"/></g>
<rect x="362.7" y="641.9" width="31.7" height="16.4" fill="#ffffff" />
<rect x="362.7" y="641.9" width="9.9" height="16.4" fill="#2fa24a" />
<rect x="383.8" y="641.9" width="10.6" height="16.4" fill="#d93a47" />
<rect x="163.5" y="660.6" width="31.2" height="17.1" fill="#fdfdfd" stroke="#e6e6e6" stroke-width=".4"/>
<circle cx="178.75" cy="666.6" r="2.9" fill="#d8303a"/>
<text x="179" y="673" font-family="'Liberation Sans',sans-serif" font-size="1.9" fill="#c8444c" text-anchor="middle">From</text>
<text x="179" y="675.3" font-family="'Liberation Sans',sans-serif" font-size="1.9" fill="#c8444c" text-anchor="middle">the People of Japan</text>
<rect x="196.3" y="660.6" width="31.2" height="17.1" fill="#ffffff" />
<rect x="196.3" y="660.6" width="31.2" height="5.9" fill="#c8343f" />
<rect x="196.3" y="672.3" width="31.2" height="5.4" fill="#27509f" />
<rect x="228.4" y="660.6" width="32.4" height="17.1" fill="#e23744" />
<rect x="236.9" y="660.6" width="5.6" height="17.1" fill="#ffffff" />
<rect x="228.4" y="666.8" width="32.4" height="4.6" fill="#ffffff" />
<rect x="238.3" y="660.6" width="2.8" height="17.1" fill="#1d3b78" />
<rect x="228.4" y="668" width="32.4" height="2.3" fill="#1d3b78" />
<rect x="262.6" y="660.6" width="31.4" height="17.1" fill="#1f5b9f" />
<rect x="272" y="660.6" width="4.7" height="17.1" fill="#f2c522" />
<rect x="262.6" y="667.2" width="31.4" height="4" fill="#f2c522" />
<rect x="303.4" y="660.6" width="17.1" height="17.1" fill="#e0323c" />
<rect x="310.1" y="664" width="3.7" height="10.3" fill="#ffffff" />
<rect x="306.8" y="667.3" width="10.3" height="3.7" fill="#ffffff" />
<rect x="329.2" y="660.6" width="31.8" height="17.1" fill="#24408e" />
<g transform="translate(329.2,660.6)"><clipPath id="ukc"><rect width="31.8" height="17.1"/></clipPath><g clip-path="url(#ukc)"><path d="M0,0 L31.8,17.1 M31.8,0 L0,17.1" stroke="#ffffff" stroke-width="3.4"/><path d="M0,0 L31.8,17.1 M31.8,0 L0,17.1" stroke="#d8323e" stroke-width="1.2"/><path d="M15.9,0 V17.1 M0,8.55 H31.8" stroke="#ffffff" stroke-width="5.4"/><path d="M15.9,0 V17.1 M0,8.55 H31.8" stroke="#d8323e" stroke-width="3.2"/></g></g>
<rect x="362" y="660.6" width="32.4" height="17.1" fill="#ffffff" />
<rect x="362" y="660.6" width="32.4" height="1.31538" fill="#d9414d" />
<rect x="362" y="663.231" width="32.4" height="1.31538" fill="#d9414d" />
<rect x="362" y="665.862" width="32.4" height="1.31538" fill="#d9414d" />
<rect x="362" y="668.492" width="32.4" height="1.31538" fill="#d9414d" />
<rect x="362" y="671.123" width="32.4" height="1.31538" fill="#d9414d" />
<rect x="362" y="673.754" width="32.4" height="1.31538" fill="#d9414d" />
<rect x="362" y="676.385" width="32.4" height="1.31538" fill="#d9414d" />
<rect x="362" y="660.6" width="13.1" height="9.20769" fill="#3b4f94" />
<defs><g id="emb" fill="none" stroke-linecap="round">
<path d="M-8.6,-10.4 Q-16.4,-1 -9.6,9.2 Q-5,12.4 0,11.2 Q5,12.4 9.6,9.2 Q16.4,-1 8.6,-10.4" stroke="currentColor" stroke-opacity=".62" stroke-width="2.2" stroke-dasharray="2.4 .8"/>
<path d="M-5,10.6 H5" stroke="currentColor" stroke-opacity=".7" stroke-width="1"/>
<path d="M-7.9,6.4 V-3 Q-6.8,-9.4 -0.5,-11.4 Q-3.6,-6.4 -3.5,-1.2 V6.4 Z" fill="currentColor" stroke="currentColor" stroke-width=".5" stroke-linejoin="round"/>
<path d="M7.9,6.4 V-3 Q6.8,-9.4 0.5,-11.4 Q3.6,-6.4 3.5,-1.2 V6.4 Z" fill="currentColor" stroke="currentColor" stroke-width=".5" stroke-linejoin="round"/>
<circle cx="0" cy="-6.1" r="1.55" fill="currentColor"/>
<path d="M-2.1,-3.8 H2.1 L2.4,1.8 H1.4 V6.4 H-1.4 V1.8 H-2.4 Z" fill="currentColor"/>
</g></defs>
<use href="#emb" transform="translate(785.4,72.6)" color="#ffffff"/>
<use href="#emb" transform="translate(64.3,682.8) scale(.36)" color="#4f86d2"/>
<g fill="#c40d12" stroke="#8e0a0d" stroke-width=".5"><path d="M64.25,666.8 L67.25,672.35 L61.25,672.35 Z"/></g>
</svg>
<div style="position:absolute;left:63.75px;top:56.12px;white-space:pre;line-height:1;font:700 16.4px 'Liberation Sans', sans-serif;color:#fff;transform:scaleX(0.8411);transform-origin:0 0;">RTG/MOI-UNHCR Verified Refugee Population</div><div style="position:absolute;left:669.25px;top:59.54px;white-space:pre;line-height:1;font:700 13.3px 'Liberation Sans', sans-serif;color:#fff;transform:scaleX(0.8690);transform-origin:0 0;word-spacing:2px;">31 March 2020</div><div style="position:absolute;left:513.00px;top:76.32px;white-space:pre;line-height:1;font:700 8.6px 'Liberation Sans', sans-serif;color:#111;transform:scaleX(0.9209);transform-origin:0 0;">Thailand Border Operation - Information Management Unit, Mae</div><div style="position:absolute;left:740.00px;top:87.52px;white-space:pre;line-height:1;font:700 8.6px 'Liberation Sans', sans-serif;color:#111;transform:scaleX(0.8488);transform-origin:0 0;">Sot</div><div style="position:absolute;left:804.20px;top:61.86px;white-space:pre;line-height:1;font:700 18.6px 'Liberation Sans', sans-serif;color:#fff;transform:scaleX(1.0739);transform-origin:0 0;-webkit-text-stroke:0.7px #fff;">UNHCR</div><div style="position:absolute;left:805.40px;top:79.58px;white-space:pre;line-height:1;font:700 6.4px 'Liberation Sans', sans-serif;color:#eef5fb;transform:scaleX(0.9570);transform-origin:0 0;">The UN Refugee Agency</div><div style="position:absolute;left:58.75px;top:133.58px;white-space:pre;line-height:1;font:700 11.9px 'Liberation Sans', sans-serif;color:#1a1a1a;transform:scaleX(0.7819);transform-origin:0 0;">Main States/Regions of Origin</div><div style="position:absolute;left:57.50px;top:150.38px;white-space:pre;line-height:1;font:400 7.7px 'Liberation Sans', sans-serif;color:#333;transform:scaleX(1.0584);transform-origin:0 0;">Based on registered refugee population</div><div style="position:absolute;left:60.00px;top:168.72px;white-space:pre;line-height:1;font:700 7.6px 'Liberation Sans', sans-serif;color:#222;transform:scaleX(0.8225);transform-origin:0 0;">Kayah</div><div style="position:absolute;left:85.00px;top:181.14px;white-space:pre;line-height:1;font:400 7.4px 'Liberation Sans', sans-serif;color:#333;transform:scaleX(0.9799);transform-origin:0 0;">17%</div><div style="position:absolute;left:60.00px;top:207.47px;white-space:pre;line-height:1;font:700 7.6px 'Liberation Sans', sans-serif;color:#222;transform:scaleX(0.8560);transform-origin:0 0;">Bago</div><div style="position:absolute;left:70.75px;top:220.64px;white-space:pre;line-height:1;font:400 7.4px 'Liberation Sans', sans-serif;color:#333;transform:scaleX(0.9357);transform-origin:0 0;">5%</div><div style="position:absolute;left:60.00px;top:245.97px;white-space:pre;line-height:1;font:700 7.6px 'Liberation Sans', sans-serif;color:#222;transform:scaleX(0.8459);transform-origin:0 0;">Kayin</div><div style="position:absolute;left:148.00px;top:261.14px;white-space:pre;line-height:1;font:400 7.4px 'Liberation Sans', sans-serif;color:#333;transform:scaleX(0.9799);transform-origin:0 0;">68%</div><div style="position:absolute;left:62.00px;top:285.47px;white-space:pre;line-height:1;font:700 7.6px 'Liberation Sans', sans-serif;color:#222;transform:scaleX(0.8328);transform-origin:0 0;">Mon</div><div style="position:absolute;left:69.50px;top:298.89px;white-space:pre;line-height:1;font:400 7.4px 'Liberation Sans', sans-serif;color:#333;transform:scaleX(0.8889);transform-origin:0 0;">4%</div><div style="position:absolute;left:60.00px;top:323.47px;white-space:pre;line-height:1;font:700 7.6px 'Liberation Sans', sans-serif;color:#222;transform:scaleX(0.8545);transform-origin:0 0;">Tanintharyi</div><div style="position:absolute;left:70.75px;top:338.14px;white-space:pre;line-height:1;font:400 7.4px 'Liberation Sans', sans-serif;color:#333;transform:scaleX(0.9357);transform-origin:0 0;">5%</div><div style="position:absolute;left:60.00px;top:363.47px;white-space:pre;line-height:1;font:700 7.6px 'Liberation Sans', sans-serif;color:#222;transform:scaleX(0.8635);transform-origin:0 0;">Other</div><div style="position:absolute;left:65.00px;top:376.89px;white-space:pre;line-height:1;font:400 7.4px 'Liberation Sans', sans-serif;color:#333;transform:scaleX(0.8655);transform-origin:0 0;">1%</div><div style="position:absolute;left:56.75px;top:459.74px;white-space:pre;line-height:1;font:700 12px 'Liberation Sans', sans-serif;color:#1a1a1a;transform:scaleX(0.7552);transform-origin:0 0;">Age and Gender</div><div style="position:absolute;left:58.00px;top:488.47px;white-space:pre;line-height:1;font:700 7px 'Liberation Sans', sans-serif;color:#111;transform:scaleX(0.9637);transform-origin:0 0;-webkit-text-stroke:0.25px #111;">AGE (Years)</div><div style="position:absolute;left:140.75px;top:488.47px;white-space:pre;line-height:1;font:700 7px 'Liberation Sans', sans-serif;color:#111;transform:scaleX(0.9902);transform-origin:0 0;-webkit-text-stroke:0.25px #111;">FEMALE</div><div style="position:absolute;left:266.25px;top:488.47px;white-space:pre;line-height:1;font:700 7px 'Liberation Sans', sans-serif;color:#111;transform:scaleX(0.9701);transform-origin:0 0;-webkit-text-stroke:0.25px #111;">MALE</div><div style="position:absolute;left:69.25px;top:510.20px;white-space:pre;line-height:1;font:700 7px 'Liberation Sans', sans-serif;color:#222;transform:scaleX(0.9877);transform-origin:0 0;">0-4</div><div style="position:absolute;left:199.50px;top:510.20px;white-space:pre;line-height:1;font:400 7px 'Liberation Sans', sans-serif;color:#444;transform:scaleX(0.9706);transform-origin:0 0;">4.0%</div><div style="position:absolute;left:249.50px;top:510.20px;white-space:pre;line-height:1;font:400 7px 'Liberation Sans', sans-serif;color:#444;transform:scaleX(0.9706);transform-origin:0 0;">4.3%</div><div style="position:absolute;left:65.00px;top:534.07px;white-space:pre;line-height:1;font:700 7px 'Liberation Sans', sans-serif;color:#222;transform:scaleX(1.0459);transform-origin:0 0;">5-11</div><div style="position:absolute;left:184.50px;top:534.07px;white-space:pre;line-height:1;font:400 7px 'Liberation Sans', sans-serif;color:#444;transform:scaleX(0.9706);transform-origin:0 0;">8.3%</div><div style="position:absolute;left:264.50px;top:534.07px;white-space:pre;line-height:1;font:400 7px 'Liberation Sans', sans-serif;color:#444;transform:scaleX(0.9706);transform-origin:0 0;">8.7%</div><div style="position:absolute;left:62.00px;top:558.20px;white-space:pre;line-height:1;font:700 7px 'Liberation Sans', sans-serif;color:#222;transform:scaleX(0.9634);transform-origin:0 0;">12-17</div><div style="position:absolute;left:187.75px;top:558.20px;white-space:pre;line-height:1;font:400 7px 'Liberation Sans', sans-serif;color:#444;transform:scaleX(0.9706);transform-origin:0 0;">7.3%</div><div style="position:absolute;left:260.00px;top:558.20px;white-space:pre;line-height:1;font:400 7px 'Liberation Sans', sans-serif;color:#444;transform:scaleX(0.9706);transform-origin:0 0;">7.4%</div><div style="position:absolute;left:62.00px;top:582.07px;white-space:pre;line-height:1;font:700 7px 'Liberation Sans', sans-serif;color:#222;transform:scaleX(0.9634);transform-origin:0 0;">18-59</div><div style="position:absolute;left:114.25px;top:582.07px;white-space:pre;line-height:1;font:400 7px 'Liberation Sans', sans-serif;color:#444;transform:scaleX(0.9567);transform-origin:0 0;">27.5%</div><div style="position:absolute;left:325.00px;top:582.07px;white-space:pre;line-height:1;font:400 7px 'Liberation Sans', sans-serif;color:#444;transform:scaleX(0.9567);transform-origin:0 0;">26.0%</div><div style="position:absolute;left:67.50px;top:606.20px;white-space:pre;line-height:1;font:700 7px 'Liberation Sans', sans-serif;color:#222;transform:scaleX(0.9474);transform-origin:0 0;">60+</div><div style="position:absolute;left:202.00px;top:606.20px;white-space:pre;line-height:1;font:400 7px 'Liberation Sans', sans-serif;color:#444;transform:scaleX(0.9706);transform-origin:0 0;">3.3%</div><div style="position:absolute;left:245.50px;top:606.20px;white-space:pre;line-height:1;font:400 7px 'Liberation Sans', sans-serif;color:#444;transform:scaleX(0.9706);transform-origin:0 0;">3.2%</div><div style="position:absolute;left:59.25px;top:643.43px;white-space:pre;line-height:1;font:700 10.6px 'Liberation Sans', sans-serif;color:#444;transform:scaleX(0.7366);transform-origin:0 0;-webkit-text-stroke:0.3px #444;">Legend</div><div style="position:absolute;left:75.00px;top:666.17px;white-space:pre;line-height:1;font:400 7.6px 'Liberation Sans', sans-serif;color:#777;transform:scaleX(0.9590);transform-origin:0 0;">Temporary Shelter</div><div style="position:absolute;left:75.00px;top:678.17px;white-space:pre;line-height:1;font:400 7.6px 'Liberation Sans', sans-serif;color:#777;transform:scaleX(0.9140);transform-origin:0 0;">UNHCR Office</div><div style="position:absolute;left:163.00px;top:678.05px;white-space:pre;line-height:1;font:400 4.9px 'Liberation Sans', sans-serif;color:#777;transform:scaleX(1.1628);transform-origin:0 0;">Regional funding and funding for Thailand was also received through private donations from</div><div style="position:absolute;left:163.00px;top:685.45px;white-space:pre;line-height:1;font:400 4.9px 'Liberation Sans', sans-serif;color:#777;transform:scaleX(1.1160);transform-origin:0 0;">Italy, Japan, the Republic of Korea, Spain, Sweden, Thailand, and the United States of America.</div><div style="position:absolute;left:575.20px;top:680.98px;white-space:pre;line-height:1;font:700 6.4px 'Liberation Sans', sans-serif;color:#222;transform:scaleX(0.8404);transform-origin:0 0;">Source:</div><div style="position:absolute;left:598.40px;top:680.81px;white-space:pre;line-height:1;font:400 6.6px 'Liberation Sans', sans-serif;color:#333;transform:scaleX(1.0658);transform-origin:0 0;">UNHCR proGres database</div><div style="position:absolute;left:703.80px;top:680.98px;white-space:pre;line-height:1;font:700 6.4px 'Liberation Sans', sans-serif;color:#222;transform:scaleX(0.9050);transform-origin:0 0;">For more information, visit:</div><div style="position:absolute;left:637.00px;top:139.83px;white-space:pre;line-height:1;font:700 13.2px 'Liberation Sans', sans-serif;color:#111;transform:scaleX(0.7834);transform-origin:0 0;">Total Verified Refugee Population*</div><div style="position:absolute;left:817.50px;top:137.75px;white-space:pre;line-height:1;font:700 16.6px 'Liberation Sans', sans-serif;color:#f4f4f4;transform:scaleX(1.1080);transform-origin:0 0;">93,227</div><div style="position:absolute;left:695.00px;top:165.14px;white-space:pre;line-height:1;font:400 7.4px 'Liberation Sans', sans-serif;color:#444;transform:scaleX(1.0986);transform-origin:0 0;">* Verification Exercise conducted from Jan-Apr  2015</div><div style="position:absolute;left:748.00px;top:174.14px;white-space:pre;line-height:1;font:400 7.4px 'Liberation Sans', sans-serif;color:#444;transform:scaleX(1.1039);transform-origin:0 0;">and subsequent data changes to-date</div><div style="position:absolute;left:708.00px;top:190.82px;white-space:pre;line-height:1;font:700 12.5px 'Liberation Sans', sans-serif;color:#111;transform:scaleX(0.7391);transform-origin:0 0;word-spacing:2px;">Registered population</div><div style="position:absolute;left:835.75px;top:190.70px;white-space:pre;line-height:1;font:700 12.4px 'Liberation Sans', sans-serif;color:#fff;transform:scaleX(0.9827);transform-origin:0 0;">45,621</div><div style="position:absolute;left:708.00px;top:217.12px;white-space:pre;line-height:1;font:700 12.5px 'Liberation Sans', sans-serif;color:#111;transform:scaleX(0.7357);transform-origin:0 0;word-spacing:2px;">Unregistered population</div><div style="position:absolute;left:835.75px;top:216.90px;white-space:pre;line-height:1;font:700 12.4px 'Liberation Sans', sans-serif;color:#fff;transform:scaleX(0.9827);transform-origin:0 0;">47,606</div><div style="position:absolute;left:716.00px;top:261.74px;white-space:pre;line-height:1;font:700 12px 'Liberation Sans', sans-serif;color:#1a1a1a;transform:scaleX(0.7604);transform-origin:0 0;">Religion</div><div style="position:absolute;left:715.75px;top:281.97px;white-space:pre;line-height:1;font:700 7.6px 'Liberation Sans', sans-serif;color:#222;transform:scaleX(0.8651);transform-origin:0 0;">Animism</div><div style="position:absolute;left:725.00px;top:292.64px;white-space:pre;line-height:1;font:400 7.4px 'Liberation Sans', sans-serif;color:#333;transform:scaleX(0.9357);transform-origin:0 0;">5%</div><div style="position:absolute;left:715.75px;top:313.47px;white-space:pre;line-height:1;font:700 7.6px 'Liberation Sans', sans-serif;color:#222;transform:scaleX(0.8687);transform-origin:0 0;">Buddhism</div><div style="position:absolute;left:755.00px;top:324.64px;white-space:pre;line-height:1;font:400 7.4px 'Liberation Sans', sans-serif;color:#333;transform:scaleX(0.9799);transform-origin:0 0;">36%</div><div style="position:absolute;left:715.75px;top:344.97px;white-space:pre;line-height:1;font:700 7.6px 'Liberation Sans', sans-serif;color:#222;transform:scaleX(0.8676);transform-origin:0 0;">Christianity</div><div style="position:absolute;left:767.50px;top:356.14px;white-space:pre;line-height:1;font:400 7.4px 'Liberation Sans', sans-serif;color:#333;transform:scaleX(1.0137);transform-origin:0 0;">51%</div><div style="position:absolute;left:715.75px;top:376.47px;white-space:pre;line-height:1;font:700 7.6px 'Liberation Sans', sans-serif;color:#222;transform:scaleX(0.8882);transform-origin:0 0;">Islam</div><div style="position:absolute;left:727.50px;top:388.14px;white-space:pre;line-height:1;font:400 7.4px 'Liberation Sans', sans-serif;color:#333;transform:scaleX(0.9357);transform-origin:0 0;">8%</div><div style="position:absolute;left:716.00px;top:449.99px;white-space:pre;line-height:1;font:700 12px 'Liberation Sans', sans-serif;color:#1a1a1a;transform:scaleX(0.7450);transform-origin:0 0;">Ethnicity</div><div style="position:absolute;left:716.50px;top:470.97px;white-space:pre;line-height:1;font:700 7.6px 'Liberation Sans', sans-serif;color:#222;transform:scaleX(0.8592);transform-origin:0 0;">Karen</div><div style="position:absolute;left:823.00px;top:480.14px;white-space:pre;line-height:1;font:400 7.4px 'Liberation Sans', sans-serif;color:#333;transform:scaleX(1.0137);transform-origin:0 0;">84%</div><div style="position:absolute;left:716.50px;top:502.97px;white-space:pre;line-height:1;font:700 7.6px 'Liberation Sans', sans-serif;color:#222;transform:scaleX(0.8309);transform-origin:0 0;">Karenni</div><div style="position:absolute;left:737.50px;top:513.14px;white-space:pre;line-height:1;font:400 7.4px 'Liberation Sans', sans-serif;color:#333;transform:scaleX(0.9799);transform-origin:0 0;">10%</div><div style="position:absolute;left:716.50px;top:535.97px;white-space:pre;line-height:1;font:700 7.6px 'Liberation Sans', sans-serif;color:#222;transform:scaleX(0.8769);transform-origin:0 0;">Burmese</div><div style="position:absolute;left:728.00px;top:545.64px;white-space:pre;line-height:1;font:400 7.4px 'Liberation Sans', sans-serif;color:#333;transform:scaleX(0.9357);transform-origin:0 0;">4%</div><div style="position:absolute;left:716.50px;top:567.97px;white-space:pre;line-height:1;font:700 7.6px 'Liberation Sans', sans-serif;color:#222;transform:scaleX(0.9289);transform-origin:0 0;">Mon</div><div style="position:absolute;left:724.00px;top:578.14px;white-space:pre;line-height:1;font:400 7.4px 'Liberation Sans', sans-serif;color:#333;transform:scaleX(0.8421);transform-origin:0 0;">1%</div><div style="position:absolute;left:716.50px;top:600.67px;white-space:pre;line-height:1;font:700 7.6px 'Liberation Sans', sans-serif;color:#222;transform:scaleX(0.9129);transform-origin:0 0;">Other</div><div style="position:absolute;left:725.80px;top:610.64px;white-space:pre;line-height:1;font:400 7.4px 'Liberation Sans', sans-serif;color:#333;transform:scaleX(0.9076);transform-origin:0 0;">2%</div><div style="position:absolute;left:515.00px;top:183.20px;white-space:pre;line-height:1;font:700 8.8px 'Liberation Sans', sans-serif;color:#111;transform:scaleX(0.8780);transform-origin:0 0;text-decoration:underline;">REG</div><div style="position:absolute;left:557.50px;top:183.20px;white-space:pre;line-height:1;font:700 8.8px 'Liberation Sans', sans-serif;color:#111;transform:scaleX(0.9457);transform-origin:0 0;text-decoration:underline;">URG</div><div style="position:absolute;left:602.00px;top:183.20px;white-space:pre;line-height:1;font:700 8.8px 'Liberation Sans', sans-serif;color:#111;transform:scaleX(1.0061);transform-origin:0 0;text-decoration:underline;">Total</div><div style="position:absolute;left:457.50px;top:196.43px;white-space:pre;line-height:1;font:700 8px 'Liberation Sans', sans-serif;color:#111;transform:scaleX(0.8436);transform-origin:0 0;">Ban Mai Nai</div><div style="position:absolute;left:508.15px;top:198.39px;white-space:pre;line-height:1;font:700 11px 'Liberation Sans', sans-serif;color:#fff;transform:scaleX(1.0969);transform-origin:0 0;text-shadow:0.5px 0.5px 0.5px rgba(0,0,0,.45);">5,808</div><div style="position:absolute;left:550.50px;top:198.39px;white-space:pre;line-height:1;font:700 11px 'Liberation Sans', sans-serif;color:#fff;transform:scaleX(1.0969);transform-origin:0 0;text-shadow:0.5px 0.5px 0.5px rgba(0,0,0,.45);">2,452</div><div style="position:absolute;left:596.80px;top:198.39px;white-space:pre;line-height:1;font:700 11px 'Liberation Sans', sans-serif;color:#fff;transform:scaleX(1.0969);transform-origin:0 0;text-shadow:0.5px 0.5px 0.5px rgba(0,0,0,.45);">8,260</div><div style="position:absolute;left:450.00px;top:214.68px;white-space:pre;line-height:1;font:700 8px 'Liberation Sans', sans-serif;color:#111;transform:scaleX(0.8232);transform-origin:0 0;">Ban Mae Surin</div><div style="position:absolute;left:513.12px;top:216.14px;white-space:pre;line-height:1;font:700 11px 'Liberation Sans', sans-serif;color:#fff;transform:scaleX(1.1030);transform-origin:0 0;text-shadow:0.5px 0.5px 0.5px rgba(0,0,0,.45);">528</div><div style="position:absolute;left:550.50px;top:216.14px;white-space:pre;line-height:1;font:700 11px 'Liberation Sans', sans-serif;color:#fff;transform:scaleX(1.0969);transform-origin:0 0;text-shadow:0.5px 0.5px 0.5px rgba(0,0,0,.45);">1,481</div><div style="position:absolute;left:596.80px;top:216.14px;white-space:pre;line-height:1;font:700 11px 'Liberation Sans', sans-serif;color:#fff;transform:scaleX(1.0969);transform-origin:0 0;text-shadow:0.5px 0.5px 0.5px rgba(0,0,0,.45);">2,009</div><div style="position:absolute;left:439.00px;top:270.93px;white-space:pre;line-height:1;font:700 8px 'Liberation Sans', sans-serif;color:#111;transform:scaleX(0.8398);transform-origin:0 0;">Mae Ra Ma Luang</div><div style="position:absolute;left:508.15px;top:272.64px;white-space:pre;line-height:1;font:700 11px 'Liberation Sans', sans-serif;color:#fff;transform:scaleX(1.0969);transform-origin:0 0;text-shadow:0.5px 0.5px 0.5px rgba(0,0,0,.45);">4,240</div><div style="position:absolute;left:550.50px;top:272.64px;white-space:pre;line-height:1;font:700 11px 'Liberation Sans', sans-serif;color:#fff;transform:scaleX(1.0969);transform-origin:0 0;text-shadow:0.5px 0.5px 0.5px rgba(0,0,0,.45);">5,973</div><div style="position:absolute;left:593.42px;top:272.64px;white-space:pre;line-height:1;font:700 11px 'Liberation Sans', sans-serif;color:#fff;transform:scaleX(1.0979);transform-origin:0 0;text-shadow:0.5px 0.5px 0.5px rgba(0,0,0,.45);">10,213</div><div style="position:absolute;left:458.00px;top:288.93px;white-space:pre;line-height:1;font:700 8px 'Liberation Sans', sans-serif;color:#111;transform:scaleX(0.8325);transform-origin:0 0;">Mae La Oon</div><div style="position:absolute;left:508.15px;top:290.89px;white-space:pre;line-height:1;font:700 11px 'Liberation Sans', sans-serif;color:#fff;transform:scaleX(1.0969);transform-origin:0 0;text-shadow:0.5px 0.5px 0.5px rgba(0,0,0,.45);">5,028</div><div style="position:absolute;left:550.50px;top:290.89px;white-space:pre;line-height:1;font:700 11px 'Liberation Sans', sans-serif;color:#fff;transform:scaleX(1.1218);transform-origin:0 0;text-shadow:0.5px 0.5px 0.5px rgba(0,0,0,.45);">4,110</div><div style="position:absolute;left:596.80px;top:290.89px;white-space:pre;line-height:1;font:700 11px 'Liberation Sans', sans-serif;color:#fff;transform:scaleX(1.0969);transform-origin:0 0;text-shadow:0.5px 0.5px 0.5px rgba(0,0,0,.45);">9,138</div><div style="position:absolute;left:472.50px;top:329.93px;white-space:pre;line-height:1;font:700 8px 'Liberation Sans', sans-serif;color:#111;transform:scaleX(0.8571);transform-origin:0 0;">Mae La</div><div style="position:absolute;left:504.77px;top:331.89px;white-space:pre;line-height:1;font:700 11px 'Liberation Sans', sans-serif;color:#fff;transform:scaleX(1.0979);transform-origin:0 0;text-shadow:0.5px 0.5px 0.5px rgba(0,0,0,.45);">15,978</div><div style="position:absolute;left:547.12px;top:331.89px;white-space:pre;line-height:1;font:700 11px 'Liberation Sans', sans-serif;color:#fff;transform:scaleX(1.0979);transform-origin:0 0;text-shadow:0.5px 0.5px 0.5px rgba(0,0,0,.45);">18,752</div><div style="position:absolute;left:593.42px;top:331.89px;white-space:pre;line-height:1;font:700 11px 'Liberation Sans', sans-serif;color:#fff;transform:scaleX(1.0979);transform-origin:0 0;text-shadow:0.5px 0.5px 0.5px rgba(0,0,0,.45);">34,730</div><div style="position:absolute;left:471.00px;top:348.68px;white-space:pre;line-height:1;font:700 8px 'Liberation Sans', sans-serif;color:#111;transform:scaleX(0.7842);transform-origin:0 0;">Umpiem</div><div style="position:absolute;left:508.15px;top:350.64px;white-space:pre;line-height:1;font:700 11px 'Liberation Sans', sans-serif;color:#fff;transform:scaleX(1.0969);transform-origin:0 0;text-shadow:0.5px 0.5px 0.5px rgba(0,0,0,.45);">5,084</div><div style="position:absolute;left:550.50px;top:350.64px;white-space:pre;line-height:1;font:700 11px 'Liberation Sans', sans-serif;color:#fff;transform:scaleX(1.0969);transform-origin:0 0;text-shadow:0.5px 0.5px 0.5px rgba(0,0,0,.45);">5,786</div><div style="position:absolute;left:593.42px;top:350.64px;white-space:pre;line-height:1;font:700 11px 'Liberation Sans', sans-serif;color:#fff;transform:scaleX(1.0979);transform-origin:0 0;text-shadow:0.5px 0.5px 0.5px rgba(0,0,0,.45);">10,870</div><div style="position:absolute;left:477.00px;top:368.68px;white-space:pre;line-height:1;font:700 8px 'Liberation Sans', sans-serif;color:#111;transform:scaleX(0.8114);transform-origin:0 0;">Nu Po</div><div style="position:absolute;left:508.15px;top:370.64px;white-space:pre;line-height:1;font:700 11px 'Liberation Sans', sans-serif;color:#fff;transform:scaleX(1.0969);transform-origin:0 0;text-shadow:0.5px 0.5px 0.5px rgba(0,0,0,.45);">4,635</div><div style="position:absolute;left:550.50px;top:370.64px;white-space:pre;line-height:1;font:700 11px 'Liberation Sans', sans-serif;color:#fff;transform:scaleX(1.0969);transform-origin:0 0;text-shadow:0.5px 0.5px 0.5px rgba(0,0,0,.45);">4,998</div><div style="position:absolute;left:596.80px;top:370.64px;white-space:pre;line-height:1;font:700 11px 'Liberation Sans', sans-serif;color:#fff;transform:scaleX(1.0969);transform-origin:0 0;text-shadow:0.5px 0.5px 0.5px rgba(0,0,0,.45);">9,633</div><div style="position:absolute;left:451.75px;top:404.93px;white-space:pre;line-height:1;font:700 8px 'Liberation Sans', sans-serif;color:#111;transform:scaleX(0.8134);transform-origin:0 0;">Ban Don Yang</div><div style="position:absolute;left:508.15px;top:406.89px;white-space:pre;line-height:1;font:700 11px 'Liberation Sans', sans-serif;color:#fff;transform:scaleX(1.0969);transform-origin:0 0;text-shadow:0.5px 0.5px 0.5px rgba(0,0,0,.45);">1,534</div><div style="position:absolute;left:555.48px;top:406.89px;white-space:pre;line-height:1;font:700 11px 'Liberation Sans', sans-serif;color:#fff;transform:scaleX(1.1030);transform-origin:0 0;text-shadow:0.5px 0.5px 0.5px rgba(0,0,0,.45);">995</div><div style="position:absolute;left:596.80px;top:406.89px;white-space:pre;line-height:1;font:700 11px 'Liberation Sans', sans-serif;color:#fff;transform:scaleX(1.0969);transform-origin:0 0;text-shadow:0.5px 0.5px 0.5px rgba(0,0,0,.45);">2,529</div><div style="position:absolute;left:465.50px;top:421.93px;white-space:pre;line-height:1;font:700 8px 'Liberation Sans', sans-serif;color:#111;transform:scaleX(0.8298);transform-origin:0 0;">Tham Hin</div><div style="position:absolute;left:508.15px;top:423.89px;white-space:pre;line-height:1;font:700 11px 'Liberation Sans', sans-serif;color:#fff;transform:scaleX(1.0969);transform-origin:0 0;text-shadow:0.5px 0.5px 0.5px rgba(0,0,0,.45);">2,786</div><div style="position:absolute;left:550.50px;top:423.89px;white-space:pre;line-height:1;font:700 11px 'Liberation Sans', sans-serif;color:#fff;transform:scaleX(1.0969);transform-origin:0 0;text-shadow:0.5px 0.5px 0.5px rgba(0,0,0,.45);">3,059</div><div style="position:absolute;left:596.80px;top:423.89px;white-space:pre;line-height:1;font:700 11px 'Liberation Sans', sans-serif;color:#fff;transform:scaleX(1.0969);transform-origin:0 0;text-shadow:0.5px 0.5px 0.5px rgba(0,0,0,.45);">5,845</div><div style="position:absolute;left:277.50px;top:236.17px;white-space:pre;line-height:1;font:700 11.5px 'Liberation Sans', sans-serif;color:#111;transform:scaleX(0.9746);transform-origin:0 0;">MYANMAR</div><div style="position:absolute;left:646.00px;top:367.67px;white-space:pre;line-height:1;font:700 11.5px 'Liberation Sans', sans-serif;color:#111;transform:scaleX(0.8846);transform-origin:0 0;">THAILAND</div><div style="position:absolute;left:430.00px;top:207.69px;white-space:pre;line-height:1;font:italic 400 5.8px 'Liberation Sans', sans-serif;color:#a7acb9;transform:scaleX(0.8962);transform-origin:0 0;">MAE HONG SON</div><div style="position:absolute;left:451.00px;top:330.69px;white-space:pre;line-height:1;font:italic 400 5.8px 'Liberation Sans', sans-serif;color:#a7acb9;transform:scaleX(0.7281);transform-origin:0 0;">MAE SOT</div><div style="position:absolute;left:546.00px;top:482.89px;white-space:pre;line-height:1;font:italic 400 5.8px 'Liberation Sans', sans-serif;color:#a7acb9;transform:scaleX(1.0114);transform-origin:0 0;">BANGKOK</div>
</body></html>
